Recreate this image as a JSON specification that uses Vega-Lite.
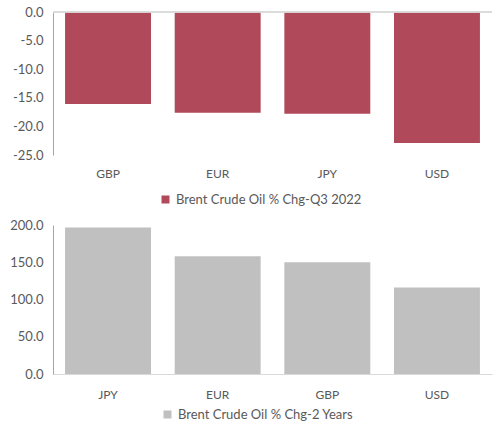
{
  "$schema": "https://vega.github.io/schema/vega-lite/v6.json",
  "padding": {"left": 9, "top": 6, "right": 5, "bottom": 5},
  "spacing": 12,
  "config": {
    "view": {"stroke": null},
    "font": "Lato",
    "axis": {"labelColor": "#595959", "labelFontSize": 12, "labelFont": "Lato", "ticks": false, "grid": false, "title": null, "labelOverlap": false, "labelBound": false},
    "axisY": {"labelFontSize": 13},
    "legend": {"labelColor": "#595959", "labelFontSize": 13, "labelFont": "Lato", "labelLimit": 400, "symbolType": "square", "symbolSize": 64, "symbolStrokeWidth": 0, "labelOffset": 4, "padding": 0}
  },
  "resolve": {"scale": {"color": "independent"}, "legend": {"color": "independent"}},
  "vconcat": [
    {
      "width": 439,
      "height": 143,
      "data": {"values": [
        {"currency": "GBP", "value": -16.1},
        {"currency": "EUR", "value": -17.6},
        {"currency": "JPY", "value": -17.8},
        {"currency": "USD", "value": -22.9}
      ]},
      "layer": [
        {
          "mark": {"type": "bar"},
          "encoding": {
            "x": {"field": "currency", "type": "nominal", "sort": null,
                  "scale": {"paddingInner": 0.216, "paddingOuter": 0.11},
                  "axis": {"domain": false, "labelAngle": 0, "labelPadding": 13}},
            "y": {"field": "value", "type": "quantitative",
                  "scale": {"domain": [-25, 0], "nice": false},
                  "axis": {"values": [0, -5, -10, -15, -20, -25], "labelOverlap": false, "labelExpr": "replace(format(datum.value, '.1f'), '\u2212', '-')", "domainColor": "#a6a6a6", "labelPadding": 10}},
            "color": {"datum": "Brent Crude Oil % Chg-Q3 2022", "type": "nominal",
                      "scale": {"range": ["#b04a5a"]},
                      "legend": {"title": null, "orient": "none", "legendX": 106, "legendY": 181, "direction": "horizontal"}}
          }
        },
        {
          "mark": {"type": "rule", "color": "#d9d9d9", "strokeWidth": 1},
          "encoding": {"y": {"datum": 0, "type": "quantitative",
                  "axis": {"values": [0, -5, -10, -15, -20, -25], "labelOverlap": false, "labelExpr": "replace(format(datum.value, '.1f'), '\u2212', '-')", "domainColor": "#a6a6a6", "labelPadding": 10}}}
        }
      ]
    },
    {
      "width": 439,
      "height": 149,
      "data": {"values": [
        {"currency": "JPY", "value": 196.5},
        {"currency": "EUR", "value": 158},
        {"currency": "GBP", "value": 150},
        {"currency": "USD", "value": 116}
      ]},
      "mark": {"type": "bar"},
      "encoding": {
        "x": {"field": "currency", "type": "nominal", "sort": null,
              "scale": {"paddingInner": 0.216, "paddingOuter": 0.11},
              "axis": {"domainColor": "#d9d9d9", "labelAngle": 0, "labelPadding": 15}},
        "y": {"field": "value", "type": "quantitative",
              "scale": {"domain": [0, 200], "nice": false},
              "axis": {"values": [0, 50, 100, 150, 200], "format": ".1f", "domainColor": "#a6a6a6", "labelPadding": 10}},
        "color": {"datum": "Brent Crude Oil % Chg-2 Years", "type": "nominal",
                  "scale": {"range": ["#c0c0c0"]},
                  "legend": {"title": null, "orient": "none", "legendX": 108, "legendY": 183, "direction": "horizontal"}}
      }
    }
  ]
}
